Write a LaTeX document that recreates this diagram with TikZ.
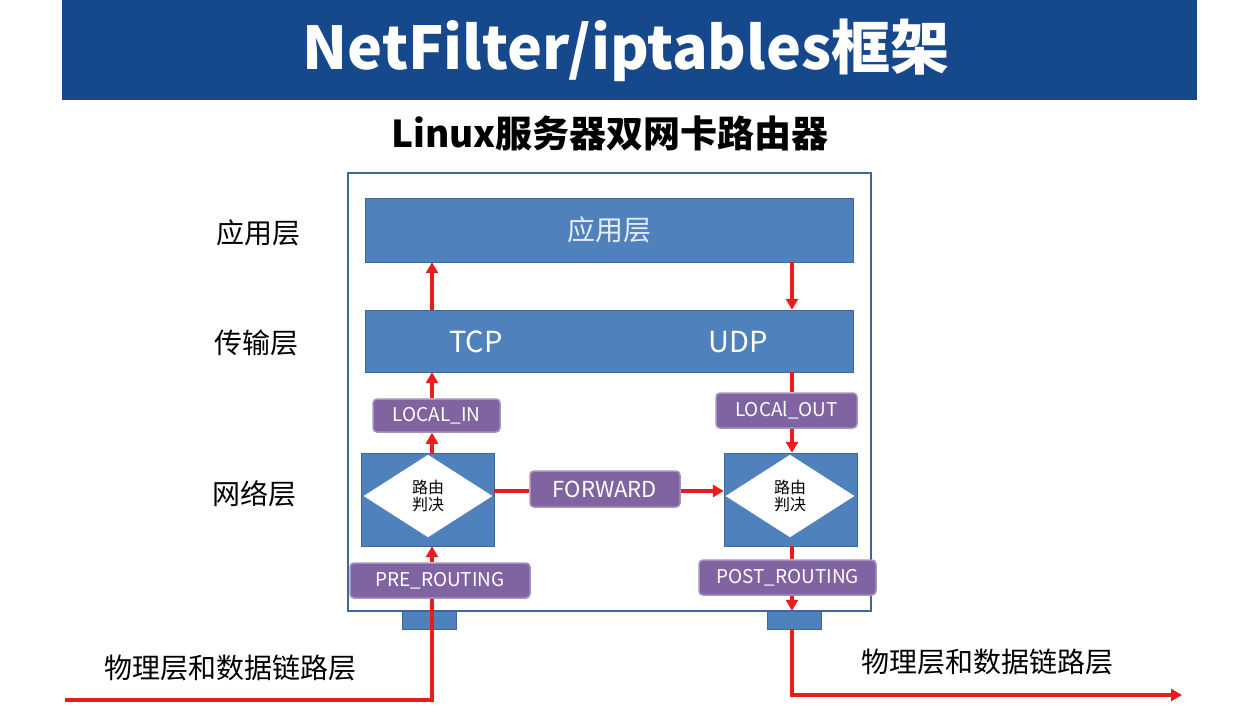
\documentclass[tikz,border=0pt]{standalone}
\usepackage{fontspec}
\setmainfont{Noto Sans CJK SC}
\usetikzlibrary{shapes.geometric,arrows.meta}
\definecolor{hdr}{RGB}{22,72,140}
\definecolor{lay}{RGB}{79,129,189}
\definecolor{pur}{RGB}{128,100,162}
\definecolor{red1}{RGB}{230,30,30}
\tikzset{
 layer/.style={draw=lay!80!black,fill=lay,inner sep=0pt},
 hook/.style={draw=pur!70!white,line width=1.5pt,fill=pur,rounded corners=4pt,text=white,font=\fontsize{19}{19}\selectfont},
 rbox/.style={draw=lay!80!black,fill=lay,inner sep=0pt},
 dia/.style={diamond,fill=white,draw=white,minimum width=128pt,minimum height=82pt,inner sep=0pt,aspect=1.6,font=\fontsize{16}{17}\selectfont,align=center},
 flow/.style={red1,line width=3.6pt,-{Triangle[length=11pt,width=12pt]}},
 line/.style={red1,line width=3.6pt},
 side/.style={font=\fontsize{28}{28}\selectfont}
}
\begin{document}
\begin{tikzpicture}[x=1pt,y=-1pt]
\useasboundingbox (0,0) rectangle (1243,728);
\fill[white] (0,0) rectangle (1243,728);
\fill[hdr] (62,0) rectangle (1197,100);
\node[text=white,font=\bfseries\fontsize{59}{59}\selectfont] (title) at (626,50) {NetFilter/iptables框架};
\node[font=\bfseries\fontsize{37}{37}\selectfont] (sub) at (610,133) {Linux服务器双网卡路由器};
\node[draw=lay!80!black,line width=1.5pt,fill=white,minimum width=523pt,minimum height=438pt,inner sep=0pt] (outer) at (609.5,392) {};
\node[layer,minimum width=488pt,minimum height=64pt,text=white!85!lay,font=\fontsize{28}{28}\selectfont] (app) at (609,230) {应用层};
\node[layer,minimum width=488pt,minimum height=62pt] (tr) at (609,341) {};
\node[text=white,font=\fontsize{29}{29}\selectfont] (tcp) at (476,342) {TCP};
\node[text=white,font=\fontsize{29}{29}\selectfont] (udp) at (738,342) {UDP};
\node[rbox,minimum width=133pt,minimum height=93pt] (lb) at (427.5,499.5) {};
\node[rbox,minimum width=133pt,minimum height=93pt] (rb) at (790.5,499.5) {};
\node[dia] (ld) at (428,496) {路由\\判决};
\node[dia] (rd) at (790,496) {路由\\判决};
\node[hook,minimum width=127pt,minimum height=33pt] (lin) at (436.5,415.5) {LOCAL\_IN};
\node[hook,minimum width=141pt,minimum height=35pt] (lout) at (786.5,410.5) {LOCAl\_OUT};
\node[hook,minimum width=150pt,minimum height=36pt,font=\fontsize{22}{22}\selectfont] (fwd) at (605,489) {FORWARD};
\node[hook,minimum width=180pt,minimum height=35pt] (pre) at (440,580.5) {PRE\_ROUTING};
\node[hook,minimum width=177pt,minimum height=35pt] (post) at (787.5,577.5) {POST\_ROUTING};
\node[fill=lay,draw=lay!80!black,minimum width=54pt,minimum height=18pt,inner sep=0pt] (lt) at (429,620) {};
\node[fill=lay,draw=lay!80!black,minimum width=54pt,minimum height=18pt,inner sep=0pt] (rt) at (794,620) {};
\node[side] (s1) at (258,233) {应用层};
\node[side] (s2) at (256,343) {传输层};
\node[side] (s3) at (254,494) {网络层};
\node[side] (p1) at (230,668) {物理层和数据链路层};
\node[side] (p2) at (987,662) {物理层和数据链路层};
\coordinate (in0) at (65,700);
\coordinate (in1) at (432,700);
\coordinate (out0) at (792,695);
\coordinate (out1) at (1182,695);
\coordinate (fy) at (0,491);
% left path
\draw[line] (in0) -- (in1) -- (pre.south -| in1);
\draw[flow] (pre.north -| in1) -- (lb.south -| in1);
\draw[flow] (lb.north -| in1) -- (lin.south -| in1);
\draw[flow] (lin.north -| in1) -- (tr.south -| in1);
\draw[flow] (tr.north -| in1) -- (app.south -| in1);
% right path
\draw[flow] (app.south -| out0) -- (tr.north -| out0);
\draw[line] (tr.south -| out0) -- (lout.north -| out0);
\draw[flow] (lout.south -| out0) -- (rb.north -| out0);
\draw[line] (rb.south -| out0) -- (post.north -| out0);
\draw[flow] (post.south -| out0) -- (rt.north -| out0);
\draw[flow] (rt.south -| out0) -- (out0) -- (out1);
% forward
\draw[line] (lb.east |- fy) -- (fwd.west |- fy);
\draw[flow] (fwd.east |- fy) -- (rb.west |- fy);
\end{tikzpicture}
\end{document}
